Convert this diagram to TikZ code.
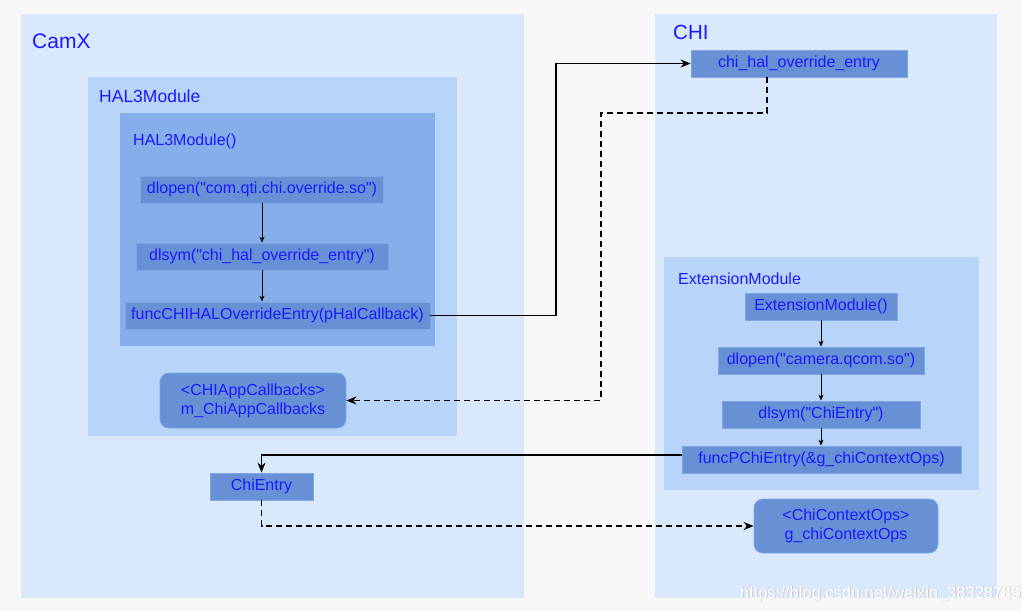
\documentclass[tikz,border=0pt]{standalone}
\usepackage{fontspec}
\setmainfont{Liberation Sans}[Ligatures=TeXOff]
\usetikzlibrary{arrows.meta}
\definecolor{bgcol}{HTML}{F7F7F7}
\definecolor{outercol}{HTML}{DAE8FC}
\definecolor{midcol}{HTML}{B9D4F9}
\definecolor{innercol}{HTML}{85AEEA}
\definecolor{nodecol}{HTML}{6791D4}
\definecolor{nodeline}{HTML}{7EA6E0}
\definecolor{txtcol}{HTML}{1A1AFF}

\begin{document}
\begin{tikzpicture}[x=1pt,y=-1pt,
  fn/.style={fill=nodecol,draw=nodeline,line width=0.8pt,text=txtcol,font=\fontsize{16}{18}\selectfont,inner sep=0pt,minimum height=27pt},
  obj/.style={fn,rounded corners=9pt,minimum height=55pt,align=center,font=\fontsize{16}{19}\selectfont},
  title/.style={text=txtcol,anchor=base west,inner sep=0pt},
  call/.style={-{Stealth[length=6pt,width=5pt]},line width=0.8pt},
  link/.style={-{Stealth[length=10pt,width=8pt]},line width=1.5pt},
  ref/.style={link,dash pattern=on 6pt off 4pt}]
% areas
\fill[bgcol] (0,0) rectangle (1022,611);
\fill[outercol] (21,14) rectangle (524,598);
\fill[outercol] (655,14) rectangle (997,598);
\fill[midcol] (88,77) rectangle (457,436);
\fill[innercol] (120,113) rectangle (435,346);
\fill[midcol] (664,257) rectangle (979,490);
\node[title,font=\fontsize{21}{24}\selectfont] (camx) at (32,48) {CamX};
\node[title,font=\fontsize{20.5}{24}\selectfont] (chi) at (673,39) {CHI};
\node[title,font=\fontsize{17.5}{20}\selectfont] (hal) at (99,102) {HAL3Module};
\node[title,font=\fontsize{16}{18}\selectfont] (halctor) at (133,145) {HAL3Module()};
\node[title,font=\fontsize{16}{18}\selectfont] (ext) at (678,284) {ExtensionModule};
% CamX side
\node[fn,minimum width=243pt] (dlopenchi) at (262,189.5) {dlopen("com.qti.chi.override.so")};
\node[fn,minimum width=252pt] (dlsymhal) at (262,256.5) {dlsym("chi\_hal\_override\_entry")};
\node[fn,minimum width=305pt] (funchal) at (277.5,315.5) {funcCHIHALOverrideEntry(pHalCallback)};
\node[obj,minimum width=186pt] (callbacks) at (253,400.5) {<CHIAppCallbacks>\\m\_ChiAppCallbacks};
\node[fn,minimum width=103pt] (chientry) at (261.5,486.5) {ChiEntry};
% CHI side
\node[fn,minimum width=216pt] (chihal) at (799,63.5) {chi\_hal\_override\_entry};
\node[fn,minimum width=152pt] (extctor) at (821,306.5) {ExtensionModule()};
\node[fn,minimum width=206pt] (dlopencam) at (821,360.5) {dlopen("camera.qcom.so")};
\node[fn,minimum width=198pt] (dlsymchi) at (821,414.5) {dlsym("ChiEntry")};
\node[fn,minimum width=279pt] (funcp) at (821.5,459.5) {funcPChiEntry(\&g\_chiContextOps)};
\node[obj,minimum width=184pt,minimum height=54pt] (ctxops) at (846,526) {<ChiContextOps>\\g\_chiContextOps};
% watermark
\node[anchor=base west,inner sep=0pt,text=gray!45,font=\fontsize{16.5}{18}\selectfont] (markshadow) at (740.8,598.8) {https://blog.csdn.net/weixin\_38328785};
\node[anchor=base west,inner sep=0pt,text=white,font=\fontsize{16.5}{18}\selectfont] (mark) at (740,598) {https://blog.csdn.net/weixin\_38328785};
% connectors
\coordinate (bendA) at (556,0);
\coordinate (dashA) at (767,113);
\coordinate (dashB) at (601,400.5);
\draw[call] (dlopenchi) -- (dlsymhal);
\draw[call] (dlsymhal) -- (dlsymhal |- funchal.north);
\draw[call] (extctor) -- (dlopencam);
\draw[call] (dlopencam) -- (dlsymchi);
\draw[call] (dlsymchi) -- (dlsymchi |- funcp.north);
\draw[link] (funchal.east) -| (bendA |- chihal.west) -- (chihal.west);
\draw[ref] (dashA |- chihal.south) -- (dashA) -| (dashB) -- (callbacks.east);
\draw[link] ([yshift=4.5pt]funcp.west) -| (chientry.north);
\draw[ref] (chientry.south) |- (ctxops.west);
\end{tikzpicture}
\end{document}
